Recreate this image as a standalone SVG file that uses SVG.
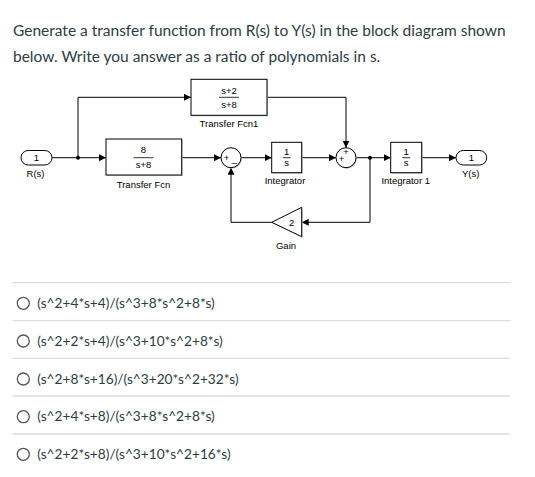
<svg xmlns="http://www.w3.org/2000/svg" width="535" height="477" viewBox="0 0 535 477">
<defs>
<style>
.q{font-family:Lato,"Liberation Sans",sans-serif;font-size:15.5px;fill:#2d3b45}
.opt{font-family:Lato,"Liberation Sans",sans-serif;font-size:13.7px;fill:#2d3b45}
.sep{stroke:#dcdcdc;stroke-width:1.3}
.radio{fill:#fff;stroke:#555;stroke-width:1.3}
.blk{fill:#fff;stroke:#000;stroke-width:1}
.sh{fill:#c8c8c8}
.t{font-family:"Liberation Sans",Arial,sans-serif;font-size:9.5px;fill:#000;text-anchor:middle}
.lbl{font-family:"Liberation Sans",Arial,sans-serif;font-size:9.5px;fill:#000;text-anchor:middle}
.w{fill:none;stroke:#000;stroke-width:1}
</style>
<marker id="ah" viewBox="0 0 10 10" refX="10" refY="5" markerWidth="7" markerHeight="7" markerUnits="userSpaceOnUse" orient="auto">
<path d="M0,0 L10,5 L0,10 z" fill="#000"/>
</marker>
</defs>
<rect width="535" height="477" fill="#fff"/>
<text class="q" x="13" y="36">Generate a transfer function from R(s) to Y(s) in the block diagram shown</text>
<text class="q" x="13" y="62">below. Write you answer as a ratio of polynomials in s.</text>

<g id="connectors">
<path class="w" d="M52,157.7 H106" marker-end="url(#ah)"/>
<path class="w" d="M78,157.7 V97.3 H191" marker-end="url(#ah)"/>
<path class="w" d="M181.7,157.7 H221" marker-end="url(#ah)"/>
<path class="w" d="M241,157.7 H271.7" marker-end="url(#ah)"/>
<path class="w" d="M301.7,157.7 H336" marker-end="url(#ah)"/>
<path class="w" d="M267,97.3 H346 V147.7" marker-end="url(#ah)"/>
<path class="w" d="M356,157.7 H390.7" marker-end="url(#ah)"/>
<path class="w" d="M421.7,157.7 H456" marker-end="url(#ah)"/>
<path class="w" d="M370,157.7 V222.3 H301.7" marker-end="url(#ah)"/>
<path class="w" d="M271.7,222.3 H231 V167.7" marker-end="url(#ah)"/>
<circle cx="78" cy="157.7" r="2" fill="#000"/>
<circle cx="370" cy="157.7" r="2" fill="#000"/>
</g>

<g id="Rs">
<rect x="21" y="150.5" width="31" height="14.5" rx="7.25" class="blk"/>
<text class="t" x="36.5" y="161">1</text>
<text class="lbl" x="35.5" y="176.5">R(s)</text>
</g>

<g id="TransferFcn1">
<rect x="192" y="80.3" width="76" height="36" class="sh"/>
<rect x="191" y="79.3" width="76" height="36" class="blk"/>
<text class="t" x="229" y="93.5">s+2</text>
<line x1="219" y1="97.3" x2="239" y2="97.3" stroke="#000" stroke-width="0.8"/>
<text class="t" x="229" y="108">s+8</text>
<text class="lbl" x="229" y="126.5">Transfer Fcn1</text>
</g>

<g id="TransferFcn">
<rect x="107" y="140" width="75.7" height="36" class="sh"/>
<rect x="106" y="139" width="75.7" height="36" class="blk"/>
<text class="t" x="143.5" y="153">8</text>
<line x1="133.5" y1="157.7" x2="153.5" y2="157.7" stroke="#000" stroke-width="0.8"/>
<text class="t" x="143.5" y="168">s+8</text>
<text class="lbl" x="143.5" y="187.5">Transfer Fcn</text>
</g>

<g id="Sum1">
<circle cx="232" cy="158.7" r="10" class="sh"/>
<circle cx="231" cy="157.7" r="10" class="blk"/>
<text class="t" x="226.5" y="161">+</text>
<text class="t" x="234.5" y="162">_</text>
</g>

<g id="Integrator">
<rect x="272.7" y="143.3" width="30" height="30.4" class="sh"/>
<rect x="271.7" y="142.3" width="30" height="30.4" class="blk"/>
<text class="t" x="286.7" y="154.5">1</text>
<line x1="282.7" y1="157.7" x2="290.7" y2="157.7" stroke="#000" stroke-width="0.8"/>
<text class="t" x="286.7" y="165.5">s</text>
<text class="lbl" x="285" y="183.5">Integrator</text>
</g>

<g id="Sum2">
<circle cx="347" cy="158.7" r="10" class="sh"/>
<circle cx="346" cy="157.7" r="10" class="blk"/>
<text class="t" x="341.5" y="161.5">+</text>
<text class="t" x="346" y="155">+</text>
</g>

<g id="Integrator1">
<rect x="391.7" y="143.3" width="31" height="30.4" class="sh"/>
<rect x="390.7" y="142.3" width="31" height="30.4" class="blk"/>
<text class="t" x="406.2" y="154.5">1</text>
<line x1="402.2" y1="157.7" x2="410.2" y2="157.7" stroke="#000" stroke-width="0.8"/>
<text class="t" x="406.2" y="165.5">s</text>
<text class="lbl" x="405.7" y="183.5">Integrator 1</text>
</g>

<g id="Ys">
<rect x="456" y="150.5" width="30.7" height="14.5" rx="7.25" class="blk"/>
<text class="t" x="471.3" y="161">1</text>
<text class="lbl" x="470.7" y="176.5">Y(s)</text>
</g>

<g id="Gain">
<path d="M272.7,223.3 L302.7,208.3 L302.7,237.7 z" class="sh"/>
<path d="M271.7,222.3 L301.7,207.3 L301.7,236.7 z" class="blk"/>
<text class="t" x="291.7" y="226">2</text>
<text class="lbl" x="286" y="249">Gain</text>
</g>

<g id="options">
<line class="sep" x1="12.7" y1="282.7" x2="510" y2="282.7"/>
<circle class="radio" cx="23.3" cy="303.3" r="6"/>
<text class="opt" x="37.3" y="307.8">(s^2+4*s+4)/(s^3+8*s^2+8*s)</text>
<line class="sep" x1="12.7" y1="320.7" x2="510" y2="320.7"/>
<circle class="radio" cx="23.3" cy="341" r="6"/>
<text class="opt" x="37.3" y="345.5">(s^2+2*s+4)/(s^3+10*s^2+8*s)</text>
<line class="sep" x1="12.7" y1="358.3" x2="510" y2="358.3"/>
<circle class="radio" cx="23.3" cy="379" r="6"/>
<text class="opt" x="37.3" y="383.5">(s^2+8*s+16)/(s^3+20*s^2+32*s)</text>
<line class="sep" x1="12.7" y1="396" x2="510" y2="396"/>
<circle class="radio" cx="23.3" cy="416.7" r="6"/>
<text class="opt" x="37.3" y="421.2">(s^2+4*s+8)/(s^3+8*s^2+8*s)</text>
<line class="sep" x1="12.7" y1="434" x2="510" y2="434"/>
<circle class="radio" cx="23.3" cy="454.3" r="6"/>
<text class="opt" x="37.3" y="458.8">(s^2+2*s+8)/(s^3+10*s^2+16*s)</text>
</g>
</svg>
